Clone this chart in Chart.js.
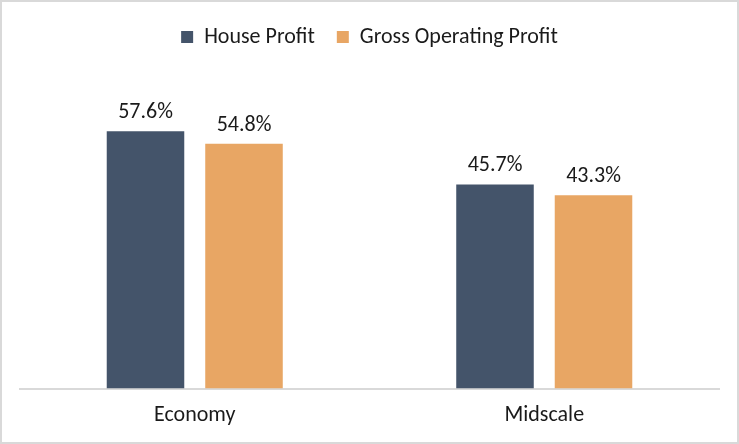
<!DOCTYPE html>
<html lang="en">
<head>
    <meta charset="UTF-8">
    <title>House Profit vs Gross Operating Profit</title>
    <script src="https://cdn.jsdelivr.net/npm/chart.js"></script>
    <style>
        html, body { margin: 0; padding: 0; background: #fff; }
        .chart-box {
            width: 739px;
            height: 444px;
            box-sizing: border-box;
            border: 2px solid #d9d9d9;
            position: relative;
        }
    </style>
</head>
<body>
    <div class="chart-box">
        <canvas id="profitChart"></canvas>
    </div>

    <script>
        // Données
        var categories = ['Economy', 'Midscale'];
        var houseProfit = [57.6, 45.7];
        var grossOperatingProfit = [54.8, 43.3];
        var seriesNames = ['House Profit', 'Gross Operating Profit'];

        var fontFamily = "Calibri, Carlito, Lato, sans-serif";

        // Étiquettes de valeur au-dessus des barres
        var valueLabels = {
            id: 'valueLabels',
            afterDatasetsDraw: function (chart) {
                var ctx = chart.ctx;
                ctx.save();
                ctx.font = '22px ' + fontFamily;
                ctx.fillStyle = '#1a1a1a';
                ctx.textAlign = 'center';
                ctx.textBaseline = 'alphabetic';
                chart.data.datasets.forEach(function (ds, i) {
                    chart.getDatasetMeta(i).data.forEach(function (bar, j) {
                        ctx.fillText(ds.data[j].toFixed(1) + '%', bar.x, bar.y - 13);
                    });
                });
                ctx.restore();
            }
        };

        var profitChart = new Chart(document.getElementById('profitChart'), {
            type: 'bar',
            data: {
                labels: categories,
                datasets: [{
                    label: seriesNames[0],
                    data: houseProfit,
                    backgroundColor: '#44546a',
                    categoryPercentage: 0.5637,
                    barPercentage: 0.787
                }, {
                    label: seriesNames[1],
                    data: grossOperatingProfit,
                    backgroundColor: '#e8a664',
                    categoryPercentage: 0.5637,
                    barPercentage: 0.787
                }]
            },
            options: {
                responsive: true,
                maintainAspectRatio: false,
                animation: false,
                layout: {
                    padding: { top: 2, left: 18, right: 18, bottom: -1 }
                },
                plugins: {
                    legend: {
                        position: 'top',
                        labels: {
                            boxWidth: 12,
                            boxHeight: 12,
                            padding: 22,
                            color: '#1a1a1a',
                            font: { family: fontFamily, size: 22 }
                        }
                    },
                    tooltip: { enabled: false }
                },
                scales: {
                    x: {
                        grid: { display: false, drawTicks: false },
                        border: { color: '#d9d9d9', width: 2 },
                        ticks: {
                            padding: 14,
                            color: '#1a1a1a',
                            font: { family: fontFamily, size: 22 }
                        }
                    },
                    y: {
                        display: false,
                        min: 0,
                        max: 74
                    }
                }
            },
            plugins: [valueLabels]
        });
    </script>
</body>
</html>
